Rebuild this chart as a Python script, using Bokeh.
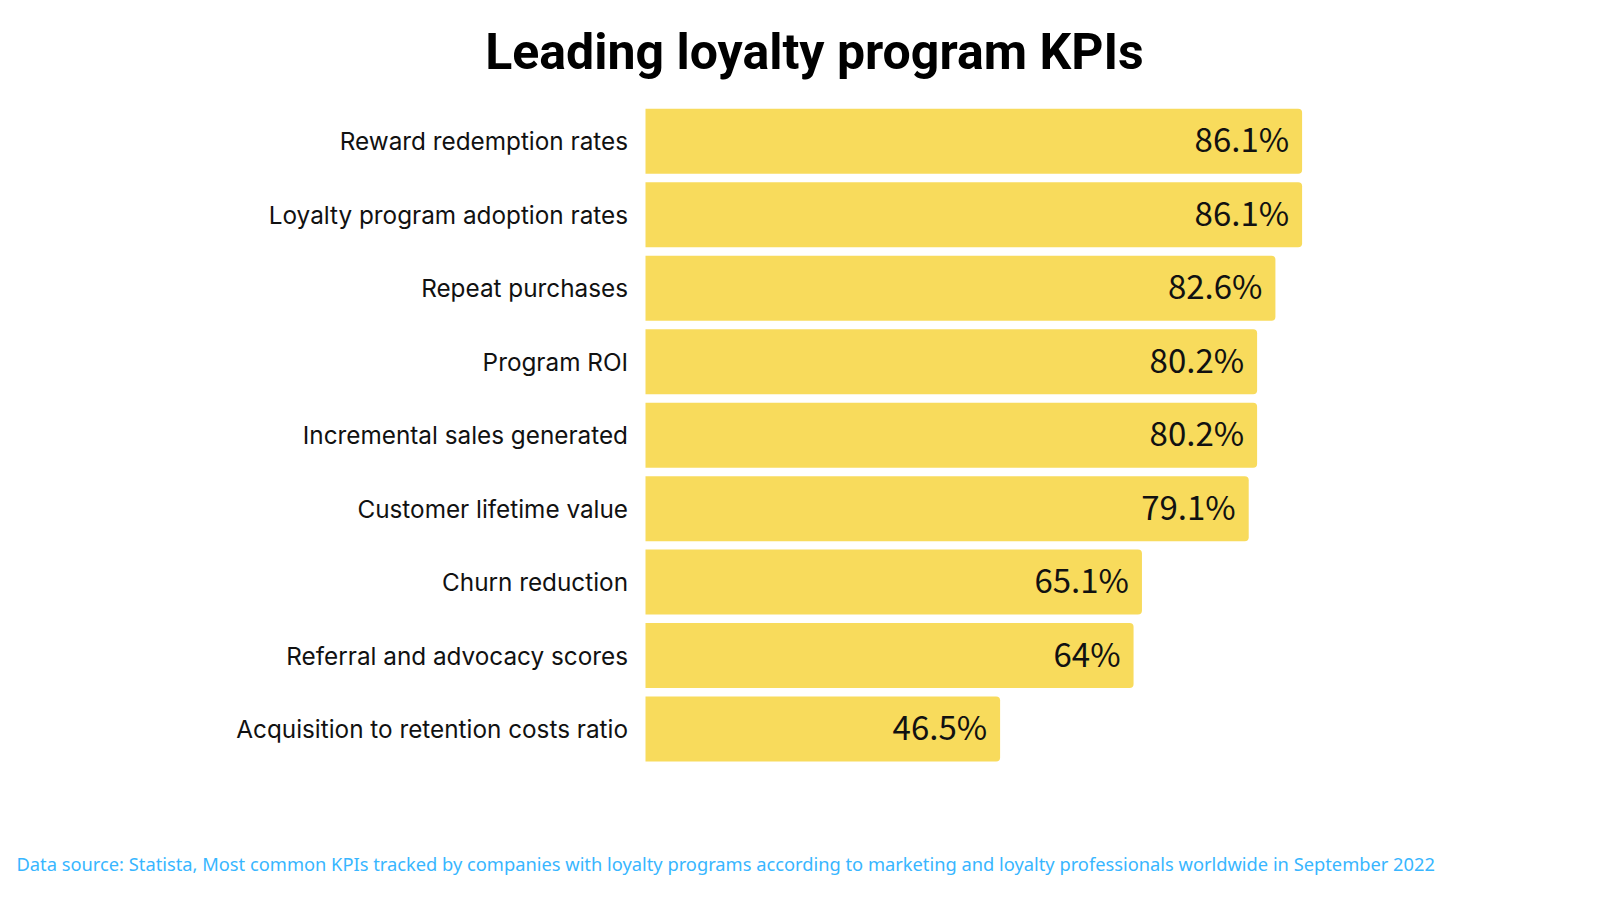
from bokeh.plotting import figure
from bokeh.models import Range1d, ColumnDataSource
from bokeh.core.properties import value
from bokeh.embed import file_html
from bokeh.resources import INLINE

# ---- data ----
categories = [
    "Reward redemption rates",
    "Loyalty program adoption rates",
    "Repeat purchases",
    "Program ROI",
    "Incremental sales generated",
    "Customer lifetime value",
    "Churn reduction",
    "Referral and advocacy scores",
    "Acquisition to retention costs ratio",
]
values = [86.1, 86.1, 82.6, 80.2, 80.2, 79.1, 65.1, 64, 46.5]
value_labels = ["86.1%", "86.1%", "82.6%", "80.2%", "80.2%", "79.1%", "65.1%", "64%", "46.5%"]
title_text = "Leading loyalty program KPIs"
source_text = ("Data source: Statista, Most common KPIs tracked by companies with loyalty programs "
               "according to marketing and loyalty professionals worldwide in September 2022")

# ---- layout constants (pixels) ----
W, H = 1600, 900
PX_PER_UNIT = 7.626   # horizontal pixels per percentage point
X0_PX = 645           # pixel where bars start
ROW_PX = 73.47        # vertical pitch of rows
ROW0_PX = 140.8       # centre of first row


def px_x(px):
    return (px - X0_PX) / PX_PER_UNIT


def px_y(px):
    return (px - ROW0_PX) / ROW_PX


src = ColumnDataSource(dict(
    pos=list(range(len(categories))),
    cat=categories,
    val=values,
    lab=value_labels,
))

p = figure(
    width=W, height=H,
    x_range=Range1d(px_x(0), px_x(W)),
    y_range=Range1d(px_y(H), px_y(0)),
    x_axis_type=None, y_axis_type=None,
    min_border=0, min_border_left=0, min_border_right=0,
    min_border_top=0, min_border_bottom=0,
    toolbar_location=None, output_backend="svg",
    outline_line_color=None,
    background_fill_color="white", border_fill_color="white",
)
p.grid.visible = False

p.hbar(y="pos", left=0, right="val", height=65 / ROW_PX, source=src,
       fill_color="#f8db5c", line_color=None, border_radius=(0, 4, 4, 0))

# category labels
p.text(x=0, y="pos", text="cat", source=src, x_offset=-17.5,
       text_align="right", text_baseline="middle",
       text_font=value("Inter"), text_font_size="24.3px", text_color="#111111")

# value labels
p.text(x="val", y="pos", text="lab", source=src, x_offset=-13, y_offset=-3,
       text_align="right", text_baseline="middle",
       text_font=value("Noto Sans CJK SC"), text_font_size="33px", text_color="#111111")

# title
p.text(x=[px_x(814)], y=[px_y(51)], text=[title_text],
       text_align="center", text_baseline="middle",
       text_font=value("Roboto"), text_font_style="bold",
       text_font_size="50px", text_color="#000000")

# source footnote
p.text(x=[px_x(16)], y=[px_y(862.5)], text=[source_text],
       text_align="left", text_baseline="middle",
       text_font=value("Noto Sans"), text_font_size="18.3px", text_color="#38b6ff")

open("out.html", "w").write(file_html(p, INLINE))
